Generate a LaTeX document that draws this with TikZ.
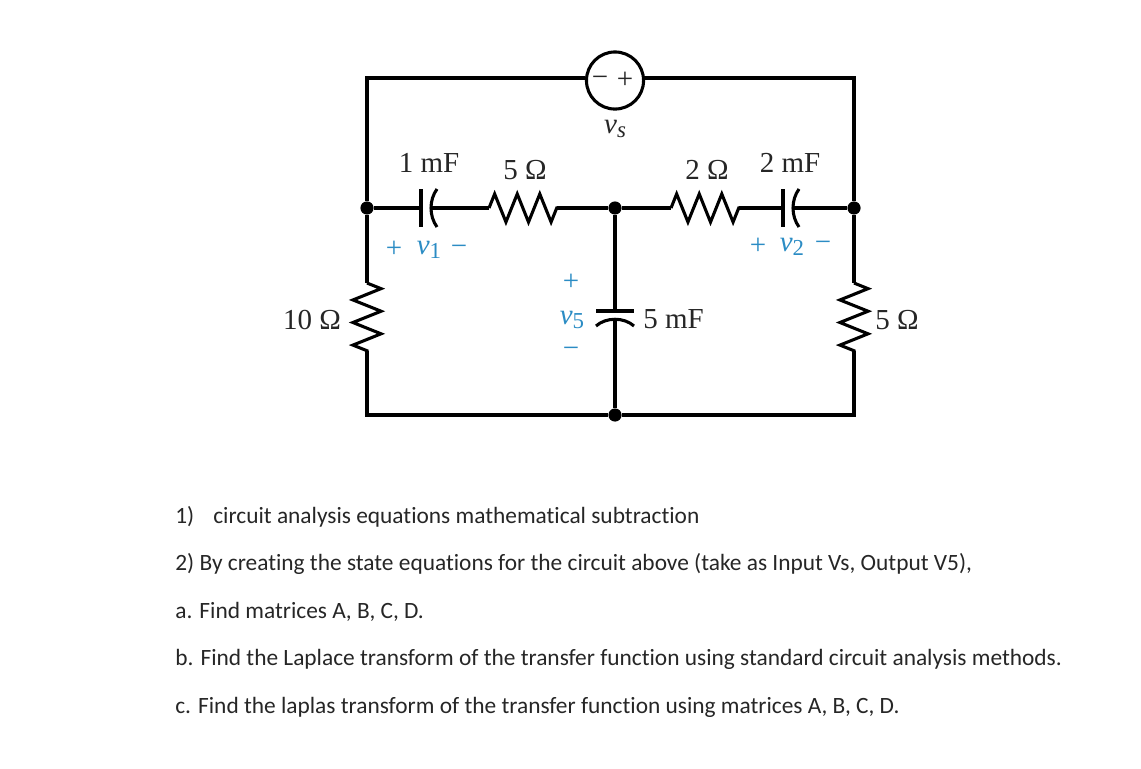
\documentclass[tikz,border=0pt]{standalone}
\usepackage{fontspec}
\setmainfont{Liberation Serif}
\newfontfamily\notefont[Ligatures=NoCommon]{Carlito}
\usetikzlibrary{decorations.pathmorphing}
\definecolor{vblue}{HTML}{2B8CC4}
\definecolor{inkgray}{HTML}{262626}
\newcommand{\vname}[1]{\textit{v}\raisebox{-0.35ex}{\fontsize{13}{13}\selectfont #1}}
\tikzstyle{wire}=[line width=1.75pt, black]
\tikzstyle{resistor}=[wire, decorate, decoration={zigzag, amplitude=8pt, segment length=12.85pt}]
\tikzstyle{junction}=[circle, fill=black, inner sep=0pt, minimum size=7.5pt]
\tikzstyle{value}=[inner sep=0pt, text=inkgray, font=\fontsize{16.5}{18}\selectfont]
\tikzstyle{vlabel}=[value, text=vblue]
\tikzstyle{note}=[anchor=base west, inner sep=0pt, text=inkgray, font=\notefont\fontsize{13.3}{15}\selectfont]

\begin{document}
\begin{tikzpicture}[x=0.02cm, y=-0.02cm]
        \useasboundingbox (0, 0) rectangle (1141, 768);

        % corners and junctions
        \coordinate (tl) at (367, 78);
        \coordinate (tr) at (854, 78);
        \coordinate (bl) at (367, 415);
        \coordinate (br) at (854, 415);
        \node[junction] (jl) at (367, 208) {};
        \node[junction] (jm) at (615, 208) {};
        \node[junction] (jr) at (854, 208) {};
        \node[junction] (jb) at (615, 415) {};
        \node[circle, wire, draw, inner sep=0pt, minimum size=32.5pt] (vs) at (615, 80.5) {};

        % element end points
        \coordinate (c1a) at (421, 208);
        \coordinate (c1b) at (431, 208);
        \coordinate (r5a) at (489, 208);
        \coordinate (r5b) at (557, 208);
        \coordinate (r2a) at (671, 208);
        \coordinate (r2b) at (739, 208);
        \coordinate (c2a) at (783, 208);
        \coordinate (c2b) at (793, 208);
        \coordinate (r10a) at (367, 283);
        \coordinate (r10b) at (367, 351);
        \coordinate (r5ra) at (854, 283);
        \coordinate (r5rb) at (854, 351);
        \coordinate (c5a) at (615, 311);
        \coordinate (c5b) at (615, 319);

        % wires
        \draw[wire] (vs.west |- tl) -- (tl) -- (jl);
        \draw[wire] (vs.east |- tr) -- (tr) -- (jr);
        \draw[wire] (jl) -- (c1a);
        \draw[wire] (c1b) -- (r5a);
        \draw[wire] (r5b) -- (jm);
        \draw[wire] (jm) -- (r2a);
        \draw[wire] (r2b) -- (c2a);
        \draw[wire] (c2b) -- (jr);
        \draw[wire] (jl) -- (r10a);
        \draw[wire] (r10b) -- (bl) -- (jb);
        \draw[wire] (jr) -- (r5ra);
        \draw[wire] (r5rb) -- (br) -- (jb);
        \draw[wire] (jm) -- (c5a);
        \draw[wire] (c5b) -- (jb);

        % resistors
        \draw[resistor] (r5a) -- (r5b);
        \draw[resistor] (r2a) -- (r2b);
        \draw[resistor] (r10a) -- (r10b);
        \draw[resistor] (r5ra) -- (r5rb);

        % capacitors
        \draw[wire] (421, 189) -- (c1a) -- (421, 227);
        \draw[wire] (437, 189) .. controls (429, 200) and (429, 216) .. (437, 227);
        \draw[wire] (783, 189) -- (c2a) -- (783, 227);
        \draw[wire] (799, 189) .. controls (791, 200) and (791, 216) .. (799, 227);
        \draw[wire] (596, 311) -- (c5a) -- (634, 311);
        \draw[wire] (596, 326) .. controls (606, 317) and (624, 317) .. (634, 326);

        % source
        \node[value] (vsminus) at (600, 81) {\textminus};
        \node[value] (vsplus) at (625, 80) {+};
        \node[value] (vsname) at (615, 129) {\vname{\textit{s}}};

        % values
        \node[value] (l1mF) at (429, 163) {1 mF};
        \node[value] (l5a) at (525, 170) {5 Ω};
        \node[value] (l2a) at (707, 170) {2 Ω};
        \node[value] (l2mF) at (790, 163) {2 mF};
        \node[value] (l10) at (312, 320) {10 Ω};
        \node[value, anchor=west] (l5mF) at (643, 319) {5 mF};
        \node[value, anchor=west] (l5b) at (875, 320) {5 Ω};

        % voltages
        \node[vlabel] (v1plus) at (394, 249) {+};
        \node[vlabel] (v1) at (429, 250) {\vname{1}};
        \node[vlabel] (v1minus) at (459, 250) {\textminus};
        \node[vlabel] (v2plus) at (758, 246) {+};
        \node[vlabel] (v2) at (792, 247) {\vname{2}};
        \node[vlabel] (v2minus) at (823, 246) {\textminus};
        \node[vlabel] (v5plus) at (571, 282) {+};
        \node[vlabel] (v5) at (572, 320) {\vname{5}};
        \node[vlabel] (v5minus) at (571, 352) {\textminus};

        % questions
        \node[note] (q1n) at (175, 523) {1)};
        \node[note] (q1) at (213, 523) {circuit analysis equations mathematical subtraction};
        \node[note] (q2) at (175, 570) {2) By creating the state equations for the circuit above (take as Input Vs, Output V5),};
        \node[note] (qa) at (175, 618) {a. Find matrices A, B, C, D.};
        \node[note] (qb) at (175, 665) {b. Find the Laplace transform of the transfer function using standard circuit analysis methods.};
        \node[note] (qc) at (175, 713) {c. Find the laplas transform of the transfer function using matrices A, B, C, D.};
    \end{tikzpicture}
\end{document}
